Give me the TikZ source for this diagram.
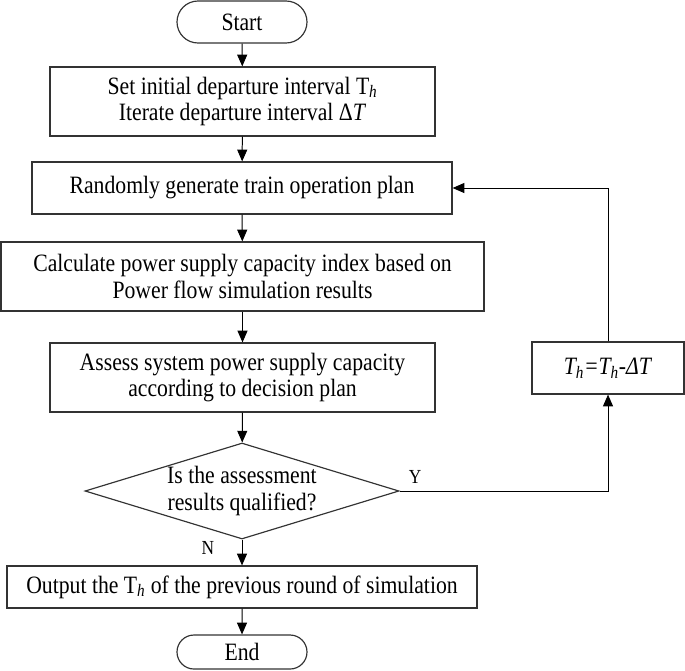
\documentclass[tikz,border=0pt]{standalone}
\usepackage{fontspec}
\setmainfont[FakeStretch=0.87]{Liberation Serif}
\usepackage{tikz}
\usetikzlibrary{shapes.geometric,shapes.misc,arrows.meta,positioning,calc}
\newcommand{\flowfont}{\fontsize{21.3}{23}\selectfont}

\begin{document}
\begin{tikzpicture}[
    x=0.03cm, y=-0.03cm,
    stepbox/.style={draw=black!80, line width=1pt, inner sep=0pt,
                    align=center, font=\flowfont},
    term/.style={stepbox, rounded rectangle, minimum width=3.9cm},
    decide/.style={stepbox, diamond, aspect=3.27, minimum width=9.42cm,
                   minimum height=2.88cm},
    arr/.style={-{Triangle[length=10pt, width=8.5pt]}, line width=0.85pt},
  ]
  \useasboundingbox (0,0) rectangle (685,670);

  % Start / end
  \node[term, minimum height=1.26cm] (start) at (242,22) {Start};
  \node[term, minimum height=1.02cm] (stop) at (242,652) {End};

  % Main column
  \node[stepbox, minimum width=11.55cm, minimum height=2.07cm]
    (init) at (242.5,101.5)
    {Set initial departure interval T\textsubscript{\textit{h}}\\
     Iterate departure interval Δ\textit{T}};
  \node[stepbox, minimum width=12.6cm, minimum height=1.56cm]
    (gen) at (242,188) {Randomly generate train operation plan};
  \node[stepbox, minimum width=14.49cm, minimum height=2.07cm]
    (calc) at (242.5,276.5)
    {Calculate power supply capacity index based on\\
     Power flow simulation results};
  \node[stepbox, minimum width=11.55cm, minimum height=2.07cm]
    (assess) at (242.5,377.5)
    {Assess system power supply capacity\\according to decision plan};
  \node[decide] (dec) at (242,491)
    {Is the assessment\\results qualified?};
  \node[stepbox, minimum width=14.1cm, minimum height=1.26cm]
    (outp) at (242,587)
    {Output the T\textsubscript{\textit{h}} of the previous round of simulation};

  % Loop
  \node[stepbox, minimum width=4.56cm, minimum height=1.56cm]
    (upd) at (608,368)
    {\textit{T\textsubscript{h}=T\textsubscript{h}-ΔT}};

  % Branch labels
  \node[font=\fontsize{17}{20}\selectfont] (ylab) at (415,477) {Y};
  \node[font=\fontsize{17}{20}\selectfont] (nlab) at (208,548) {N};

  % Arrows
  \foreach \a/\b in {start/init, init/gen, gen/calc, calc/assess,
                     assess/dec, dec/outp, outp/stop}
    \draw[arr] (\a) -- (\b);
  \draw[arr] (dec.east) -| (upd.south);
  \draw[arr] (upd.north) |- (gen.east);
\end{tikzpicture}
\end{document}
